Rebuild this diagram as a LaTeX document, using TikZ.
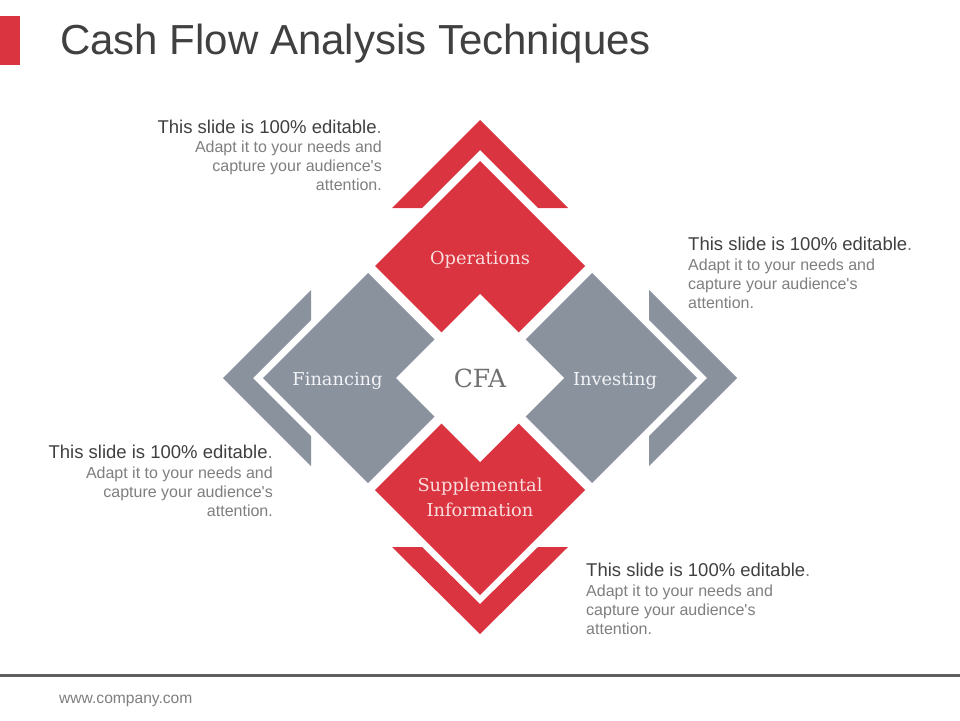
\documentclass[tikz,border=0pt]{standalone}
\usepackage{fontspec}
\setmainfont{Liberation Sans}[Ligatures=TeXOff]
\newfontfamily\labelfont{DejaVu Serif}
\definecolor{cfared}{RGB}{217,52,64}
\definecolor{cfagray}{RGB}{138,146,158}
\definecolor{headgray}{RGB}{64,64,64}
\definecolor{bodygray}{RGB}{127,127,127}
\definecolor{redtxt}{RGB}{250,222,222}
\definecolor{graytxt}{RGB}{242,243,246}
\definecolor{cfatxt}{RGB}{112,112,112}
\definecolor{rulegray}{RGB}{95,95,95}
\newcommand\infoblock[4]{%
  \node[headtxt,anchor=base #4] (#1a) at (#2,#3) {This slide is 100\% editable\textcolor{bodygray}{.}};
  \node[bodytxt,anchor=base #4] (#1b) at (#2,#3+19.5) {Adapt it to your needs and};
  \node[bodytxt,anchor=base #4] (#1c) at (#2,#3+38.5) {capture your audience's};
  \node[bodytxt,anchor=base #4] (#1d) at (#2,#3+57.5) {attention.};
}
\begin{document}
\begin{tikzpicture}[x=1pt,y=-1pt,
  redshape/.style={fill=cfared,draw=none},
  grayshape/.style={fill=cfagray,draw=none},
  headtxt/.style={font=\fontsize{18.5}{22}\selectfont,text=headgray,inner sep=0},
  bodytxt/.style={font=\fontsize{16}{19}\selectfont,text=bodygray,inner sep=0},
  lbl/.style={font=\labelfont\fontsize{17.8}{21}\selectfont,inner sep=0,anchor=base}]
\useasboundingbox (0,0) rectangle (960,720);
\fill[white] (0,0) rectangle (960,720);
% title
\fill[cfared] (0,16) rectangle (20,65);
\node[anchor=base west,inner sep=0,text=headgray,font=\fontsize{42}{48}\selectfont] (title) at (60,54) {Cash Flow Analysis Techniques};
% footer
\draw[rulegray,line width=3pt] (0,675.5) -- (960,675.5);
\node[anchor=base west,inner sep=0,text=bodygray,font=\fontsize{15.6}{18}\selectfont] (url) at (59,703) {www.company.com};
% chevrons
\fill[redshape] (392,208) -- (480,120) -- (568,208) -- (538,208) -- (480,150) -- (422,208) -- cycle;
\fill[redshape] (392,547) -- (480,634) -- (568,547) -- (538,547) -- (480,604) -- (422,547) -- cycle;
\fill[grayshape] (311,290) -- (223,378) -- (311,466) -- (311,436) -- (253,378) -- (311,320) -- cycle;
\fill[grayshape] (649,290) -- (737,378) -- (649,466) -- (649,436) -- (707,378) -- (649,320) -- cycle;
% diamonds
\fill[redshape] (480,161) -- (585,266) -- (480,371) -- (375,266) -- cycle;
\fill[redshape] (480,385) -- (585,490) -- (480,595) -- (375,490) -- cycle;
\fill[grayshape] (368,273) -- (473,378) -- (368,483) -- (263,378) -- cycle;
\fill[grayshape] (592,273) -- (697,378) -- (592,483) -- (487,378) -- cycle;
% centre
\fill[white] (480,294) -- (564,378) -- (480,462) -- (396,378) -- cycle;
% labels
\node[lbl,text=redtxt] (ops) at (480,264) {Operations};
\node[lbl,text=graytxt] (fin) at (337.5,385) {Financing};
\node[lbl,text=graytxt] (inv) at (615,385) {Investing};
\node[lbl,text=redtxt] (sup1) at (480,491.5) {Supplemental};
\node[lbl,text=redtxt] (sup2) at (480,516) {Information};
\node[inner sep=0,anchor=base,text=cfatxt,font=\labelfont\fontsize{25}{30}\selectfont] (cfa) at (480,387.5) {CFA};
% text blocks
\infoblock{tl}{382}{133}{east}
\infoblock{tr}{688}{250.5}{west}
\infoblock{bl}{273}{458.5}{east}
\infoblock{br}{586}{576.5}{west}
\end{tikzpicture}
\end{document}
